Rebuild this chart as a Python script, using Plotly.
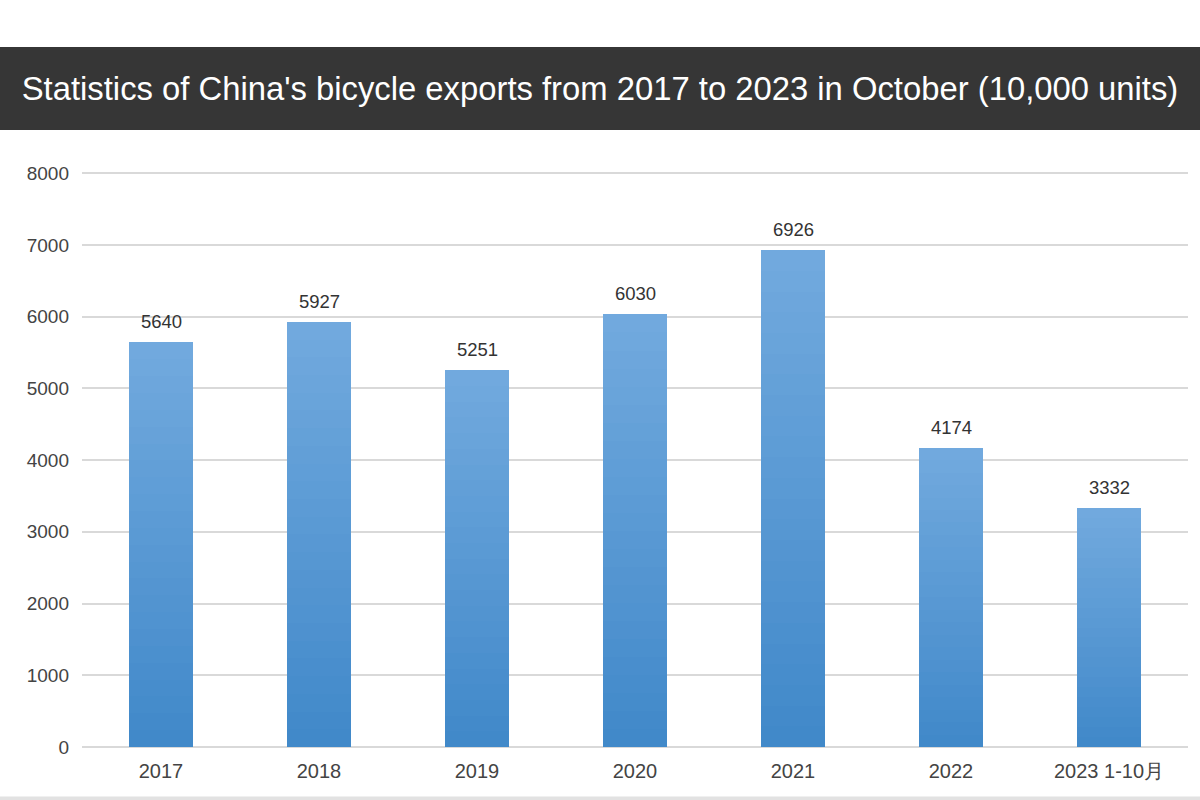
import plotly.graph_objects as go

categories = ["2017", "2018", "2019", "2020", "2021", "2022", "2023 1-10月"]
values = [5640, 5927, 5251, 6030, 6926, 4174, 3332]
y_ticks = [0, 1000, 2000, 3000, 4000, 5000, 6000, 7000, 8000]
title_text = "Statistics of China's bicycle exports from 2017 to 2023 in October (10,000 units)"

W, H = 1200, 800
ML, MR, MT, MB = 82, 12, 171, 53
PW, PH = W - ML - MR, H - MT - MB
FONT = "Liberation Sans, Arial, sans-serif"

def px_x(x):
    return (x - ML) / PW

def px_y(y):
    return (H - MB - y) / PH

bottom_rgb = (64, 136, 201)
top_rgb = (114, 170, 222)
N = 24

fig = go.Figure()
for i in range(N):
    t = (i + 0.5) / N
    c = tuple(int(round(b + (tp - b) * t)) for b, tp in zip(bottom_rgb, top_rgb))
    fig.add_trace(go.Bar(
        x=categories,
        y=[v / N for v in values],
        marker=dict(color="rgb(%d,%d,%d)" % c, line=dict(width=0)),
        showlegend=False,
        hoverinfo="skip",
    ))

# value labels (x given as category index so that "2017" is not read as index 2017)
for idx, v in enumerate(values):
    fig.add_annotation(
        x=idx, y=v, text=str(v), showarrow=False,
        yanchor="bottom", yshift=8,
        font=dict(family=FONT, size=18.5, color="#333333"),
    )

# dark title band
fig.add_shape(type="rect", xref="paper", yref="paper",
              x0=px_x(0), x1=px_x(W), y0=px_y(130), y1=px_y(47),
              fillcolor="#363636", line=dict(width=0), layer="below")
# bottom light line
fig.add_shape(type="rect", xref="paper", yref="paper",
              x0=px_x(0), x1=px_x(W), y0=px_y(800), y1=px_y(796.5),
              fillcolor="#e2e2e2", line=dict(width=0), layer="below")

fig.update_layout(
    width=W, height=H,
    margin=dict(l=ML, r=MR, t=MT, b=MB),
    paper_bgcolor="white", plot_bgcolor="white",
    barmode="stack", bargap=0.595,
    title=dict(text=title_text, x=0.5, xanchor="center", y=1 - 89 / H, yanchor="middle",
               font=dict(family=FONT, size=32.8, color="white")),
    xaxis=dict(type="category", categoryorder="array", categoryarray=categories,
               range=[-0.5, len(categories) - 0.5],
               showgrid=False, showline=False, ticks="", ticklabelstandoff=10,
               tickfont=dict(family=FONT, size=20, color="#444444")),
    yaxis=dict(range=[0, 8030], tickvals=y_ticks, showgrid=True, gridcolor="#d9d9d9", gridwidth=1.5,
               zeroline=True, zerolinecolor="#d9d9d9", zerolinewidth=1.5, ticks="", ticklabelstandoff=12,
               tickfont=dict(family=FONT, size=19, color="#444444")),
)

fig.write_html("out.html", config={"displayModeBar": False},
               post_script="document.body.style.margin='0';")
